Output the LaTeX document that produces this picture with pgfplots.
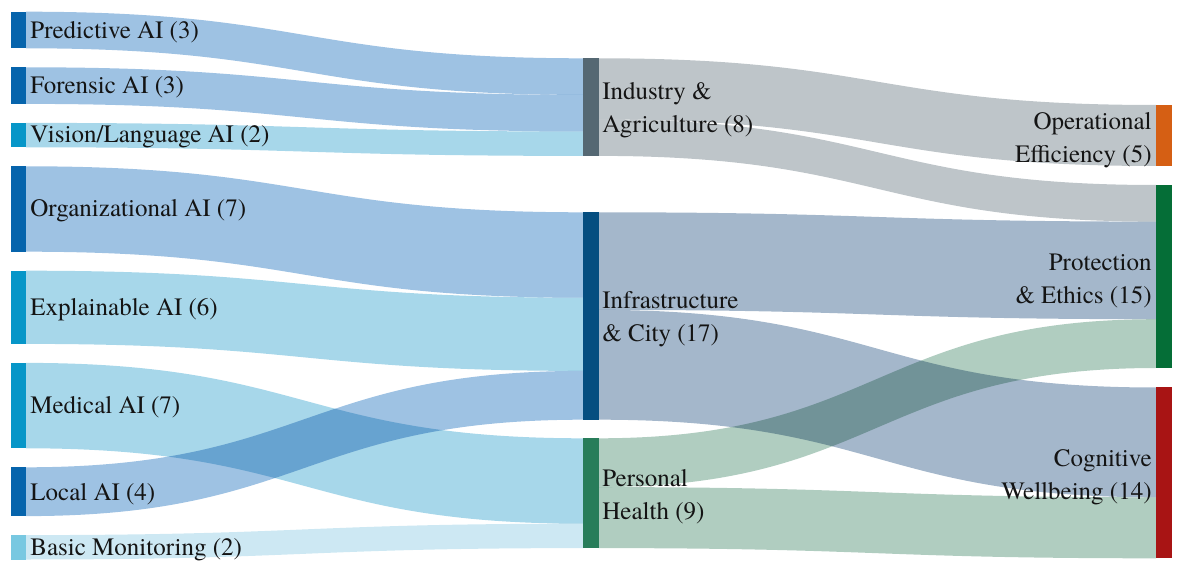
\documentclass[border=0pt]{standalone}
\usepackage{pgfplots}
\pgfplotsset{compat=1.18}
\usepackage{fontspec}
\setmainfont{texgyretermes}[Extension=.otf, UprightFont=*-regular, BoldFont=*-bold]
\newfontfamily\lblfont{texgyretermes}[Extension=.otf, UprightFont=*-regular]

% link colours (as seen on white, blended with multiply)
\definecolor{lkDark}{RGB}{158,194,227}
\definecolor{lkMed}{RGB}{167,215,234}
\definecolor{lkLight}{RGB}{205,232,243}
\definecolor{lkInd}{RGB}{190,197,201}
\definecolor{lkInfra}{RGB}{164,183,203}
\definecolor{lkPers}{RGB}{176,205,192}
% node colours
\definecolor{ndDark}{RGB}{6,100,172}
\definecolor{ndMed}{RGB}{6,150,200}
\definecolor{ndLight}{RGB}{120,200,225}
\definecolor{ndInd}{RGB}{85,104,115}
\definecolor{ndInfra}{RGB}{5,78,128}
\definecolor{ndPers}{RGB}{40,125,90}
\definecolor{ndOper}{RGB}{213,95,20}
\definecolor{ndProt}{RGB}{5,110,55}
\definecolor{ndCogn}{RGB}{168,20,20}

\tikzset{lbl/.style={font=\lblfont\fontsize{12.5}{16.5}\selectfont, text=black!92, inner sep=0pt}}

\def\unitpx{12.2}
% \flow{x0}{y0 top}{x1}{y1 top}{value}{colour}
\newcommand\flow[6]{%
  \fill[#6, blend mode=multiply]
    (axis cs:#1,#2) .. controls (axis cs:{(#1+#3)/2},#2) and (axis cs:{(#1+#3)/2},#4) .. (axis cs:#3,#4)
    -- (axis cs:#3,{#4+#5*\unitpx})
    .. controls (axis cs:{(#1+#3)/2},{#4+#5*\unitpx}) and (axis cs:{(#1+#3)/2},{#2+#5*\unitpx}) .. (axis cs:#1,{#2+#5*\unitpx})
    -- cycle;}
% \nodebar{x0}{x1}{top}{bottom}{colour}
\newcommand\nodebar[5]{%
  \addplot[fill=#5, draw=none] coordinates {(#1,#3) (#2,#3) (#2,#4) (#1,#4)} -- cycle;}

\begin{document}
\begin{tikzpicture}
\begin{axis}[
    width=591.5pt, height=285.5pt, scale only axis,
    xmin=0, xmax=1183, ymin=0, ymax=571,
    y dir=reverse, hide axis, clip=false,
]
    % links: stage 1 -> stage 2
    \flow{26}{11.7}{583.3}{58.3}{3}{lkDark}
    \flow{26}{67.3}{583.3}{94.9}{3}{lkDark}
    \flow{26}{122.9}{583.3}{131.5}{2}{lkMed}
    \flow{26}{166.3}{583.3}{212.3}{7}{lkDark}
    \flow{26}{270.7}{583.3}{297.7}{6}{lkMed}
    \flow{26}{362.9}{583.3}{438.3}{7}{lkMed}
    \flow{26}{467.3}{583.3}{370.9}{4}{lkDark}
    \flow{26}{535.1}{583.3}{523.7}{2}{lkLight}
    % links: stage 2 -> stage 3
    \flow{598.7}{58.3}{1156}{105}{5}{lkInd}
    \flow{598.7}{119.3}{1156}{185}{3}{lkInd}
    \flow{598.7}{212.3}{1156}{221.6}{8}{lkInfra}
    \flow{598.7}{309.9}{1156}{387.5}{9}{lkInfra}
    \flow{598.7}{438.3}{1156}{319.2}{4}{lkPers}
    \flow{598.7}{487.1}{1156}{497.3}{5}{lkPers}

    % nodes
    \nodebar{10.5}{26}{11.7}{48.3}{ndDark}
    \nodebar{10.5}{26}{67.3}{103.9}{ndDark}
    \nodebar{10.5}{26}{122.9}{147.3}{ndMed}
    \nodebar{10.5}{26}{166.3}{251.7}{ndDark}
    \nodebar{10.5}{26}{270.7}{343.9}{ndMed}
    \nodebar{10.5}{26}{362.9}{448.3}{ndMed}
    \nodebar{10.5}{26}{467.3}{516.1}{ndDark}
    \nodebar{10.5}{26}{535.1}{559.5}{ndLight}
    \nodebar{583.3}{598.7}{58.3}{155.9}{ndInd}
    \nodebar{583.3}{598.7}{212.3}{419.7}{ndInfra}
    \nodebar{583.3}{598.7}{438.3}{548.1}{ndPers}
    \nodebar{1156}{1171.5}{105}{166}{ndOper}
    \nodebar{1156}{1171.5}{185}{368}{ndProt}
    \nodebar{1156}{1171.5}{387.5}{558.3}{ndCogn}

    % labels
    \node[lbl, anchor=west] at (axis cs:30,32.0) {Predictive AI (3)};
    \node[lbl, anchor=west] at (axis cs:30,87.6) {Forensic AI (3)};
    \node[lbl, anchor=west] at (axis cs:30,137.1) {Vision/Language AI (2)};
    \node[lbl, anchor=west] at (axis cs:30,211.0) {Organizational AI (7)};
    \node[lbl, anchor=west] at (axis cs:30,309.3) {Explainable AI (6)};
    \node[lbl, anchor=west] at (axis cs:30,407.6) {Medical AI (7)};
    \node[lbl, anchor=west] at (axis cs:30,493.7) {Local AI (4)};
    \node[lbl, anchor=west] at (axis cs:30,549.3) {Basic Monitoring (2)};
    \node[lbl, anchor=west, align=left] at (axis cs:602,110.6) {Industry \&\\Agriculture (8)};
    \node[lbl, anchor=west, align=left] at (axis cs:602,319.0) {Infrastructure\\\& City (17)};
    \node[lbl, anchor=west, align=left] at (axis cs:602,497.0) {Personal\\Health (9)};
    \node[lbl, anchor=east, align=right] at (axis cs:1152,140.0) {Operational\\Efficiency (5)};
    \node[lbl, anchor=east, align=right] at (axis cs:1152,280.5) {Protection\\\& Ethics (15)};
    \node[lbl, anchor=east, align=right] at (axis cs:1152,476.9) {Cognitive\\Wellbeing (14)};
\end{axis}
\pgfresetboundingbox
\path (current axis.south west) rectangle (current axis.north east);
\end{tikzpicture}
\end{document}
